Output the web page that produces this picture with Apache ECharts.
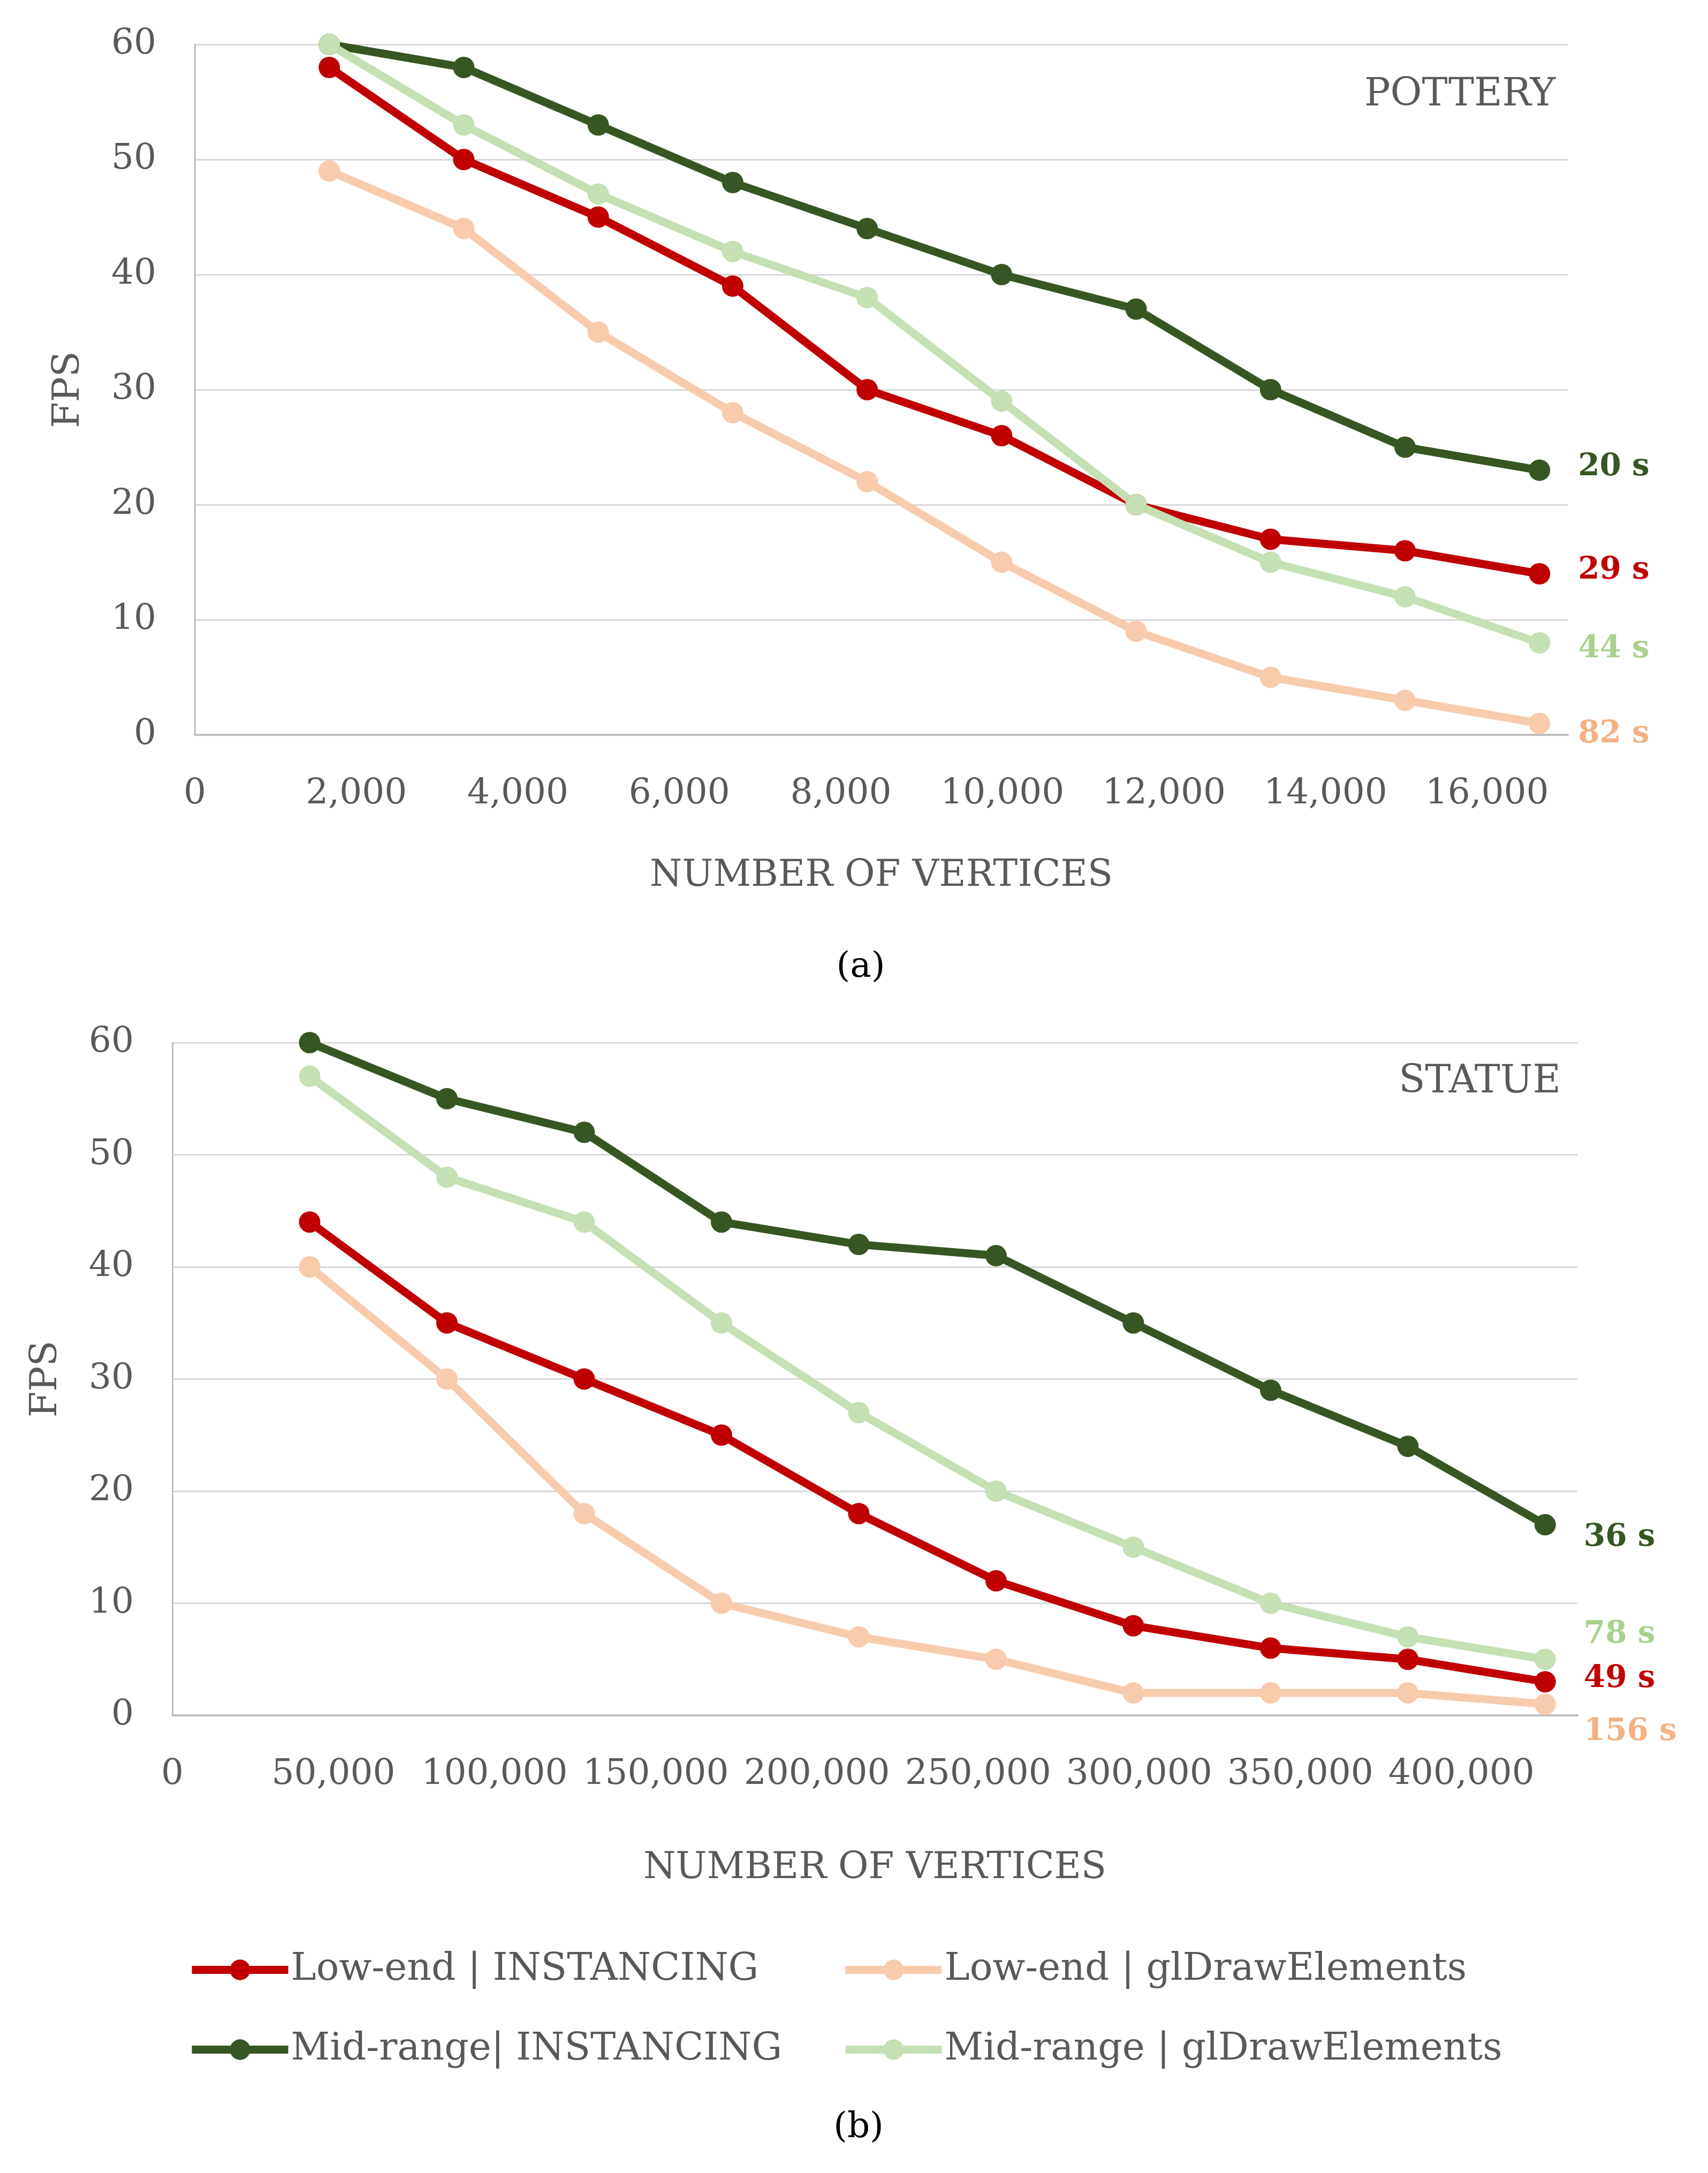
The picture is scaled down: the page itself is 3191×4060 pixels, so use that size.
<!DOCTYPE html>
<html>
<head>
<meta charset="utf-8">
<script src="https://cdn.jsdelivr.net/npm/echarts@6/dist/echarts.min.js"></script>
<style>
  html, body { margin: 0; padding: 0; background: #fff; }
  #chart { width: 3191px; height: 4060px; }
</style>
</head>
<body>
<div id="chart"></div>
<script>
// series names, in drawing order
const seriesNames = ['Low-end | INSTANCING', 'Low-end | glDrawElements', 'Mid-range| INSTANCING', 'Mid-range | glDrawElements'];
const seriesColors = ['#C00000', '#F8CBAD', '#375623', '#C5E0B4'];
const labelColors = ['#C00000', '#F4B183', '#375623', '#A9D18E'];

// (a) pottery
const verticesA = [1665, 3330, 4995, 6660, 8325, 9990, 11655, 13320, 14985, 16650];
const lowInstA = [58, 50, 45, 39, 30, 26, 20, 17, 16, 14];
const lowDrawA = [49, 44, 35, 28, 22, 15, 9, 5, 3, 1];
const midInstA = [60, 58, 53, 48, 44, 40, 37, 30, 25, 23];
const midDrawA = [60, 53, 47, 42, 38, 29, 20, 15, 12, 8];
const timesA = ['29 s', '82 s', '20 s', '44 s'];

// (b) statue
const verticesB = [42600, 85200, 127800, 170400, 213000, 255600, 298200, 340800, 383400, 426000];
const lowInstB = [44, 35, 30, 25, 18, 12, 8, 6, 5, 3];
const lowDrawB = [40, 30, 18, 10, 7, 5, 2, 2, 2, 1];
const midInstB = [60, 55, 52, 44, 42, 41, 35, 29, 24, 17];
const midDrawB = [57, 48, 44, 35, 27, 20, 15, 10, 7, 5];
const timesB = ['49 s', '156 s', '36 s', '78 s'];

const fpsTicks = [0, 10, 20, 30, 40, 50, 60];

const FONT = 'DejaVu Serif';
const GRAY = '#595959';

let chartInstance = echarts.init(document.getElementById('chart'));

function makeSeries(gridIdx, xs, ys, i, label, dy) {
  return {
    name: seriesNames[i],
    type: 'line',
    xAxisIndex: gridIdx,
    yAxisIndex: gridIdx,
    data: xs.map(function (x, k) { return [x, ys[k]]; }),
    symbol: 'circle',
    symbolSize: 40,
    showAllSymbol: true,
    color: seriesColors[i],
    lineStyle: { width: 15, color: seriesColors[i] },
    itemStyle: { color: seriesColors[i] },
    endLabel: {
      show: true,
      formatter: label,
      color: labelColors[i],
      fontFamily: FONT,
      fontWeight: 'bold',
      fontSize: 58,
      distance: 72,
      offset: [0, dy]
    },
    animation: false
  };
}

function xAxisOf(gridIdx, max, interval, gap) {
  return {
    type: 'value',
    gridIndex: gridIdx,
    min: 0,
    max: max,
    interval: interval,
    name: 'NUMBER OF VERTICES',
    nameLocation: 'middle',
    nameGap: gap,
    nameTextStyle: { color: GRAY, fontFamily: FONT, fontSize: 69 },
    axisLine: { show: true, lineStyle: { color: '#BFBFBF', width: 4 } },
    axisTick: { show: false },
    splitLine: { show: false },
    axisLabel: {
      color: GRAY, fontFamily: FONT, fontSize: 66, margin: 78,
      showMaxLabel: false,
      formatter: function (v) { return v.toLocaleString('en-US'); }
    }
  };
}

function yAxisOf(gridIdx) {
  return {
    type: 'value',
    gridIndex: gridIdx,
    min: fpsTicks[0],
    max: fpsTicks[fpsTicks.length - 1],
    interval: 10,
    name: 'FPS',
    nameLocation: 'middle',
    nameGap: 200,
    nameTextStyle: { color: GRAY, fontFamily: FONT, fontSize: 70 },
    axisLine: { show: true, lineStyle: { color: '#BFBFBF', width: 3 } },
    axisTick: { show: false },
    splitLine: { show: true, lineStyle: { color: '#D9D9D9', width: 3 } },
    axisLabel: { color: GRAY, fontFamily: FONT, fontSize: 66, margin: 72 }
  };
}

function legendOf(names, left) {
  return {
    data: names,
    orient: 'vertical',
    left: left,
    top: 3640,
    itemWidth: 180,
    itemHeight: 48,
    itemGap: 78,
    selectedMode: false,
    lineStyle: { width: 15 },
    textStyle: { color: GRAY, fontFamily: FONT, fontSize: 71 }
  };
}

let option = {
  backgroundColor: '#ffffff',
  animation: false,
  grid: [
    { left: 364, right: 262, top: 83, height: 1290, containLabel: false },
    { left: 322, right: 244, top: 1948, height: 1257, containLabel: false }
  ],
  xAxis: [
    xAxisOf(0, 17000, 2000, 230),
    xAxisOf(1, 436000, 50000, 252)
  ],
  yAxis: [yAxisOf(0), yAxisOf(1)],
  legend: [
    legendOf([seriesNames[0], seriesNames[2]], 346),
    legendOf([seriesNames[1], seriesNames[3]], 1567)
  ],
  graphic: [
    { type: 'text', x: 2906, y: 178, style: { text: 'POTTERY', align: 'right', verticalAlign: 'middle', fontFamily: FONT, fontSize: 72, fill: GRAY } },
    { type: 'text', x: 2916, y: 2022, style: { text: 'STATUE', align: 'right', verticalAlign: 'middle', fontFamily: FONT, fontSize: 72, fill: GRAY } },
    { type: 'text', x: 1608, y: 1808, style: { text: '(a)', align: 'center', verticalAlign: 'middle', fontFamily: FONT, fontSize: 66, fill: '#000' } },
    { type: 'text', x: 1604, y: 3976, style: { text: '(b)', align: 'center', verticalAlign: 'middle', fontFamily: FONT, fontSize: 66, fill: '#000' } }
  ],
  series: [
    makeSeries(0, verticesA, lowInstA, 0, timesA[0], -6),
    makeSeries(0, verticesA, lowDrawA, 1, timesA[1], 20),
    makeSeries(0, verticesA, midInstA, 2, timesA[2], -6),
    makeSeries(0, verticesA, midDrawA, 3, timesA[3], 12),
    makeSeries(1, verticesB, lowInstB, 0, timesB[0], -5),
    makeSeries(1, verticesB, lowDrawB, 1, timesB[1], 52),
    makeSeries(1, verticesB, midInstB, 2, timesB[2], 24),
    makeSeries(1, verticesB, midDrawB, 3, timesB[3], -46)
  ]
};

chartInstance.setOption(option);
</script>
</body>
</html>
